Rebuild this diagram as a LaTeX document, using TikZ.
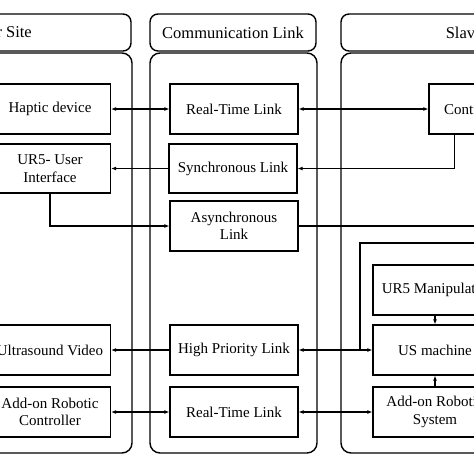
\documentclass[tikz,border=0pt]{standalone}
\usepackage{fontspec}
\setmainfont{Liberation Serif}
\usetikzlibrary{arrows.meta}
\begin{document}
\begin{tikzpicture}[x=1pt,y=-1pt,
  box/.style={draw, line width=1.2pt, minimum height=50pt, inner sep=0pt, align=center, font=\fontsize{15}{17.5}\selectfont},
  hdr/.style={draw, line width=1.4pt, rounded corners=8pt, minimum height=37pt, inner sep=0pt, font=\fontsize{16.5}{19}\selectfont},
  body/.style={draw, line width=1.4pt, rounded corners=10pt, minimum height=400pt, inner sep=0pt},
  conn/.style={line width=1.2pt},
  arr/.style={conn, -{Latex[length=5pt,width=4pt]}},
  barr/.style={conn, {Latex[length=5pt,width=4pt]}-{Latex[length=5pt,width=4pt]}}
]
\useasboundingbox (0,0) rectangle (474,474);
\clip (0,0) rectangle (474,474);
% headers
\node[hdr, minimum width=274pt] (lh) at (-6,32.5) {Master Site};
\node[hdr, minimum width=166pt] (mh) at (233,32.5) {Communication Link};
\node[hdr, minimum width=276pt] (rh) at (479,32.5) {Slave Site};
% bodies
\node[body, minimum width=332pt] (lb) at (-34,253) {};
\node[body, minimum width=167pt] (mb) at (233.5,253) {};
\node[body, minimum width=359pt] (rb) at (520.5,253) {};
% left boxes
\node[box, minimum width=121pt] (hap) at (50,109) {Haptic device};
\node[box, minimum width=121pt, minimum height=49pt] (ui) at (50,168.5) {UR5- User\\Interface};
\node[box, minimum width=121pt] (uv) at (50,350) {Ultrasound Video};
\node[box, minimum width=121pt] (arc) at (50,412) {Add-on Robotic\\Controller};
% middle boxes
\node[box, minimum width=128pt] (rt1) at (234,109) {Real-Time Link};
\node[box, minimum width=128pt, minimum height=49pt] (syn) at (233,168.5) {Synchronous Link};
\node[box, minimum width=128pt] (asy) at (234,226) {Asynchronous\\Link};
\node[box, minimum width=128pt] (hpl) at (234,350) {High Priority Link};
\node[box, minimum width=128pt] (rt2) at (234,412) {Real-Time Link};
% right boxes
\node[box, minimum width=92pt] (ctrl) at (475,109) {Controller};
\node[box, minimum width=124pt] (man) at (435,290) {UR5 Manipulator};
\node[box, minimum width=124pt] (usm) at (435,350) {US machine};
\node[box, minimum width=124pt] (aors) at (435,412) {Add-on Robotic\\System};
% connectors
\draw[barr] (hap.east) -- (rt1.west);
\draw[barr] (rt1.east) -- (ctrl.west);
\draw[arr] ([xshift=26pt]ctrl.south west) |- (syn.east);
\draw[arr] (syn.west) -- (ui.east);
\draw[arr] (ui.south) |- (asy.west);
\coordinate (asyR) at (490,226);
\draw[conn] (asy.east) -- (asyR);
\coordinate (grpR) at (490,243);
\coordinate (grpC) at (360,350);
\draw[conn] (grpR) -| (grpC);
\draw[barr] (hpl.east) -- (usm.west);
\draw[arr] (hpl.west) -- (uv.east);
\draw[arr] (man.south) -- (usm.north);
\draw[arr] (aors.north) -- (usm.south);
\draw[barr] (arc.east) -- (rt2.west);
\draw[barr] (rt2.east) -- (aors.west);
\end{tikzpicture}
\end{document}
